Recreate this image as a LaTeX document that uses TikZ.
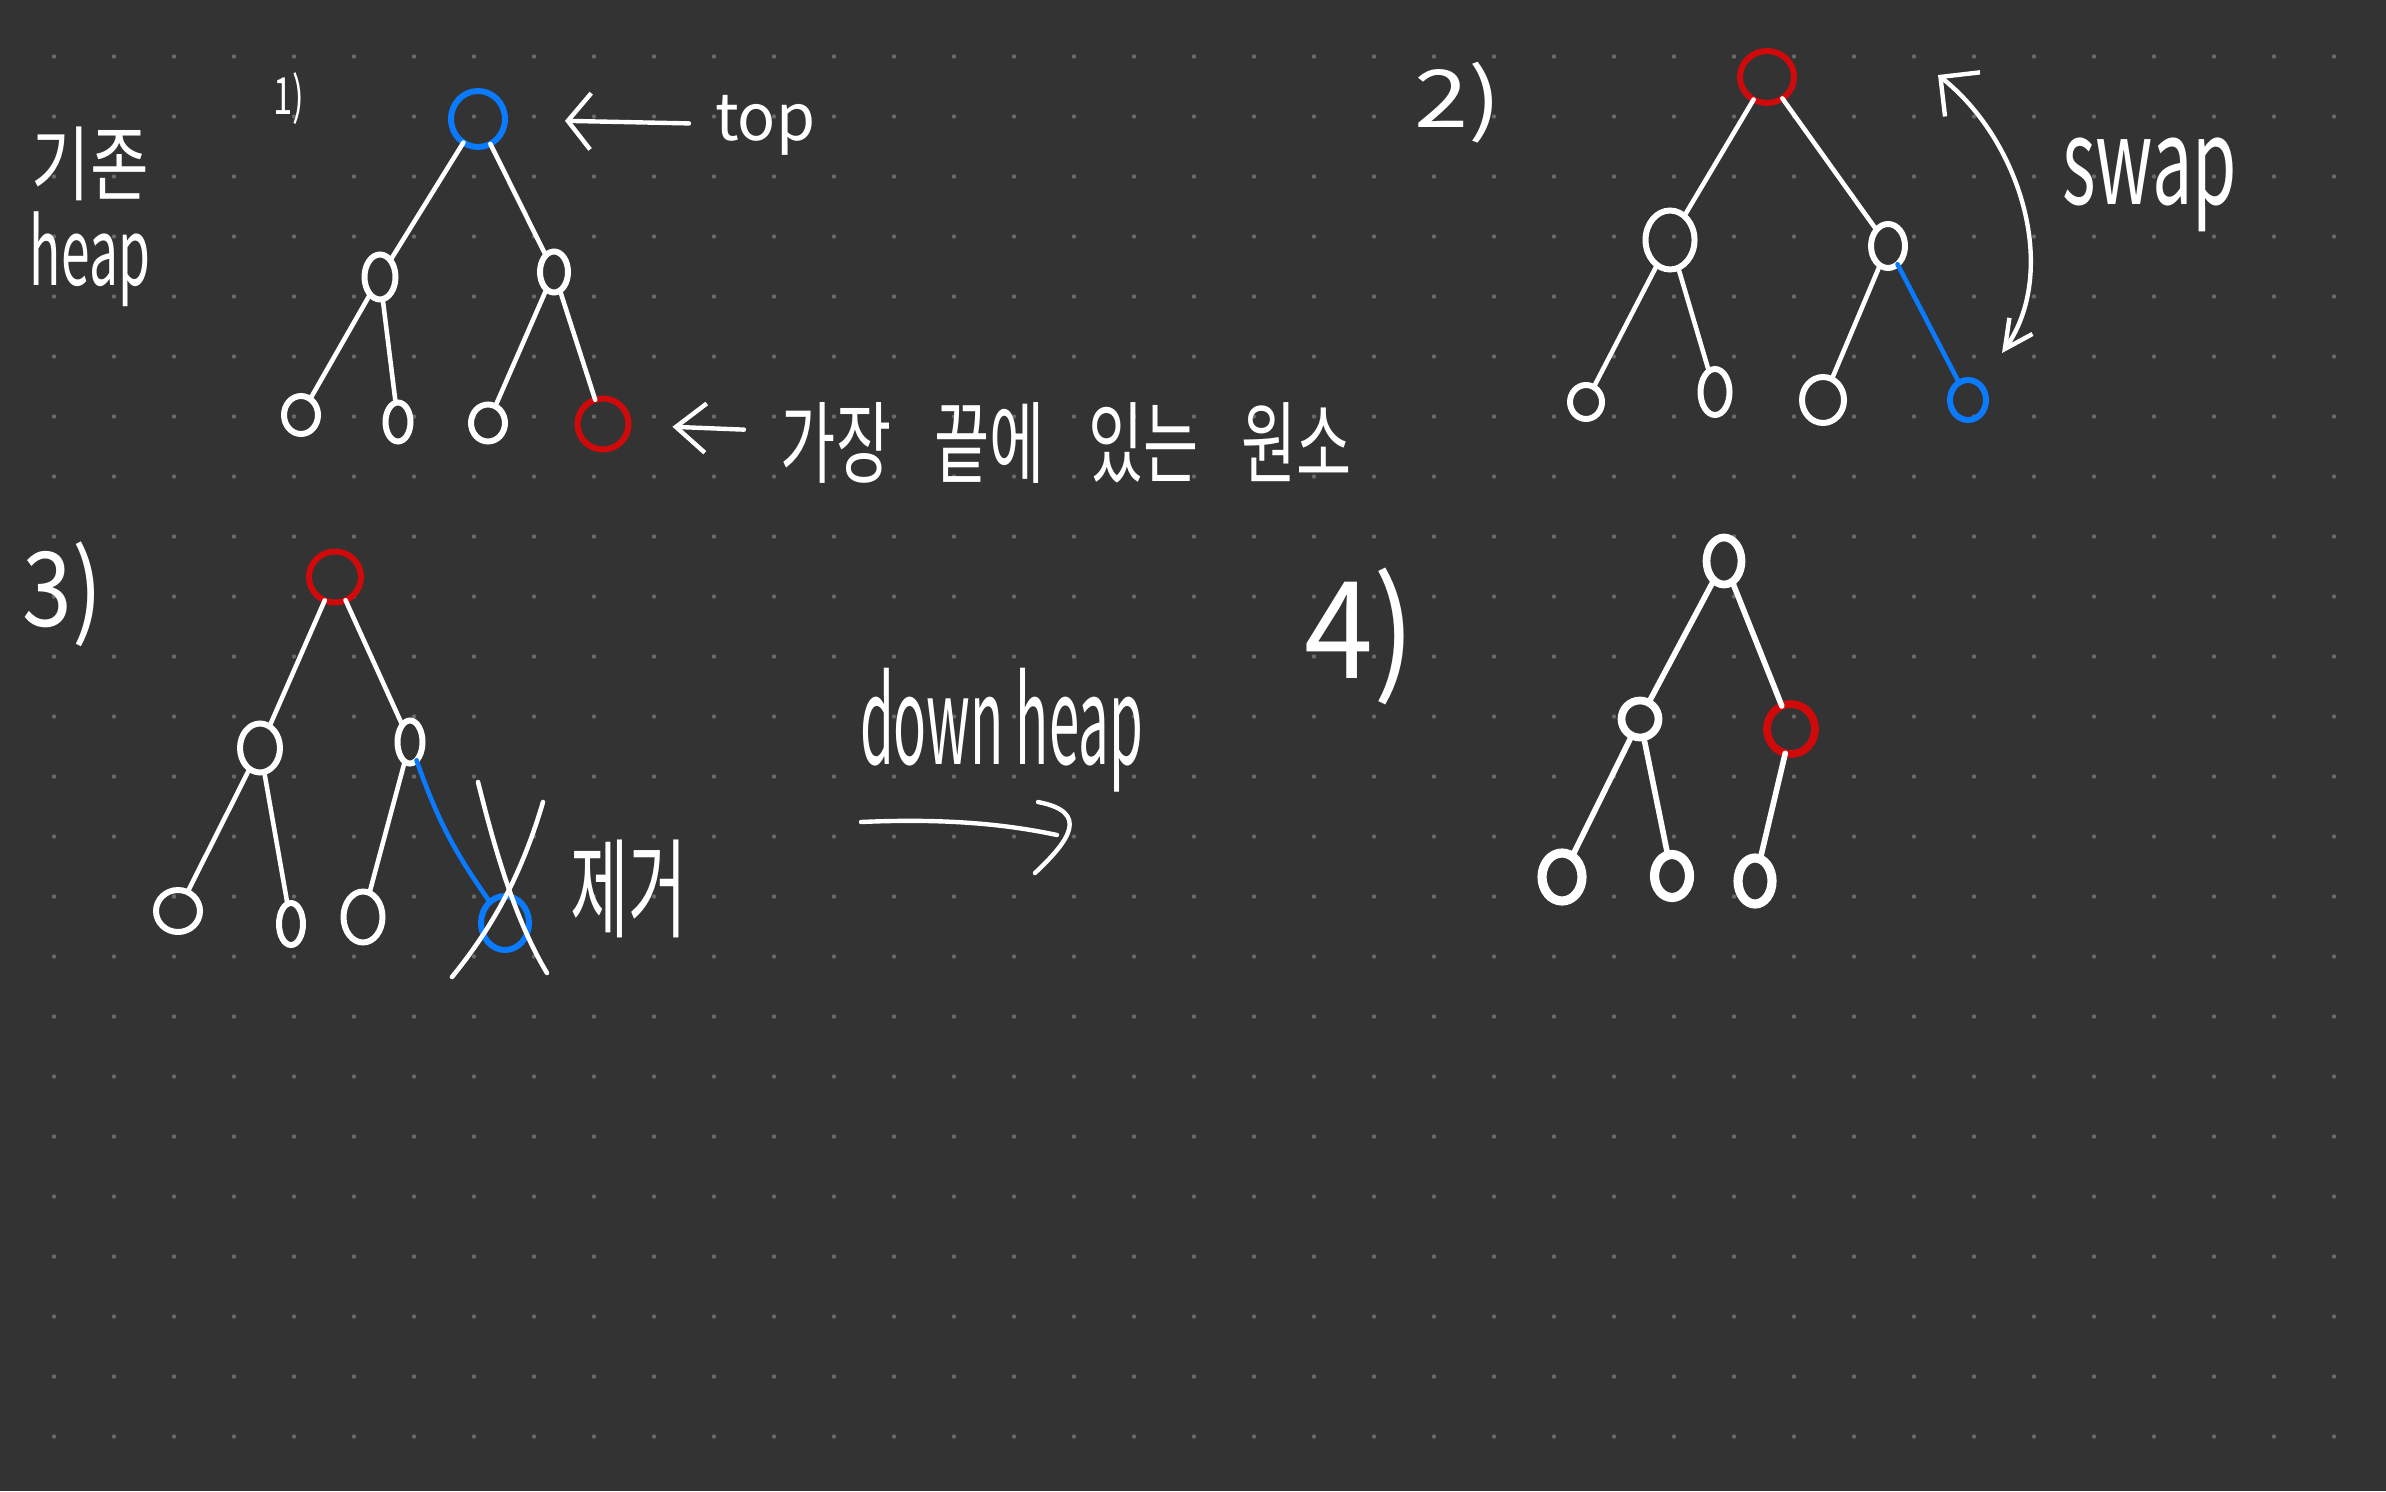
\documentclass[tikz,border=0pt]{standalone}
\usepackage{fontspec}
\setmainfont{Noto Sans CJK KR}
\usetikzlibrary{shapes.geometric,arrows.meta}
\definecolor{bg}{HTML}{333333}
\definecolor{dotc}{HTML}{6A6A6A}
\definecolor{hblue}{HTML}{0A7BFF}
\definecolor{hred}{HTML}{D00A0A}
\newlength\hwu \setlength\hwu{0.01cm}
\newcommand\hw[3]{\resizebox*{#1\hwu}{#2\hwu}{#3}}
\begin{document}
\begin{tikzpicture}[x=0.01cm,y=-0.01cm,
  nd/.style={ellipse,draw=white,line width=1.7pt,inner sep=0pt,outer sep=0pt},
  sz/.style 2 args={minimum width=#1\hwu,minimum height=#2\hwu},
  bl/.style={draw=hblue},
  rd/.style={draw=hred},
  ed/.style={draw=white,line width=1.3pt,line cap=round},
  edb/.style={draw=hblue,line width=1.3pt,line cap=round},
  txt/.style={text=white,inner sep=0pt,outer sep=0pt},
  arr/.style={draw=white,line width=1.25pt,line cap=round}]
\fill[bg] (0,0) rectangle (2386,1491);
\useasboundingbox (0,0) rectangle (2386,1491);
\foreach \i in {0,...,38}{\foreach \j in {0,...,23}{
  \fill[dotc] ({54+\i*60},{56.5+\j*60}) circle[radius=2.2\hwu];}}

% ---------- texts ----------
\node[txt] (t11) at (90.5,164) {\hw{117}{74}{기존}};
\node[txt] (t12) at (90,259.5) {\hw{120}{95}{heap}};
\node[txt] (n1) at (288.5,99) {\hw{31}{52}{1)}};
\node[txt] (top) at (765,125) {\hw{100}{60}{top}};
\node[txt] (last) at (1066.5,442.5) {\hw{571}{81}{가장~\hspace{0.5em}끝에~\hspace{0.5em}있는~\hspace{0.5em}원소}};
\node[txt] (n2) at (1457.5,102.5) {\hw{87}{81}{2)}};
\node[txt] (swap) at (2149.5,185) {\hw{175}{94}{swap}};
\node[txt] (n3) at (63,594.5) {\hw{80}{105}{3)}};
\node[txt] (del) at (628.5,889) {\hw{117}{98}{제거}};
\node[txt] (dh) at (1001.5,730) {\hw{283}{124}{down heap}};
\node[txt] (n4) at (1359.5,636.5) {\hw{111}{137}{4)}};

% ---------- panel 1 ----------
\node[nd,bl,sz={54}{56}] (r1) at (478,119) {};
\node[nd,sz={31}{45}] (a1) at (380,277) {};
\node[nd,sz={28}{41}] (b1) at (554,272) {};
\node[nd,sz={34}{38}] (c1) at (301,415) {};
\node[nd,sz={25}{39}] (d1) at (398,422) {};
\node[nd,sz={34}{37}] (e1) at (488,423) {};
\node[nd,rd,sz={51}{51}] (f1) at (603,424) {};
\draw[ed] (r1) -- (a1);
\draw[ed] (r1) -- (b1);
\draw[ed] (a1) -- (c1);
\draw[ed] (a1) -- (d1);
\draw[ed] (b1) -- (e1);
\draw[ed] (b1) -- (f1);
\draw[arr,-{Straight Barb[length=6.5pt,width=16pt]},shorten <=26\hwu,shorten >=60\hwu] (top) -- (r1);
\draw[arr,-{Straight Barb[length=8.5pt,width=14pt]},shorten <=37\hwu,shorten >=44\hwu] (last) -- (f1);

% ---------- panel 2 ----------
\node[nd,rd,sz={54}{52}] (r2) at (1767,77) {};
\node[nd,sz={49}{59}] (a2) at (1670,240) {};
\node[nd,sz={34}{44}] (b2) at (1888,246) {};
\node[nd,sz={32}{34}] (c2) at (1586,402) {};
\node[nd,sz={29}{46}] (d2) at (1715,392) {};
\node[nd,sz={42}{46}] (e2) at (1823,400) {};
\node[nd,bl,sz={36}{40}] (f2) at (1968,400) {};
\draw[ed] (r2) -- (a2);
\draw[ed] (r2) -- (b2);
\draw[ed] (a2) -- (c2);
\draw[ed] (a2) -- (d2);
\draw[ed] (b2) -- (e2);
\draw[edb] (b2) -- (f2);
\coordinate (s1) at (1938,75);
\coordinate (s2) at (2002,353);
\draw[arr,{Straight Barb[length=8pt,width=16pt]}-{Straight Barb[length=8pt,width=8pt]}]
  (s1) .. controls (2020,140) and (2060,270) .. (s2);

% ---------- panel 3 ----------
\node[nd,rd,sz={52}{51}] (r3) at (335,577) {};
\node[nd,sz={40}{49}] (a3) at (260,748) {};
\node[nd,sz={25}{43}] (b3) at (410,742) {};
\node[nd,sz={44}{42}] (c3) at (178,911) {};
\node[nd,sz={24}{42}] (d3) at (291,924) {};
\node[nd,sz={39}{51}] (e3) at (363,917) {};
\node[nd,bl,sz={48}{54}] (f3) at (505,923) {};
\draw[ed] (r3) -- (a3);
\draw[ed] (r3) -- (b3);
\draw[ed] (a3) -- (c3);
\draw[ed] (a3) -- (d3);
\draw[ed] (b3) -- (e3);
\draw[edb] (b3) to[bend right=8] (f3);
\draw[ed] (478,782) .. controls (495,850) and (515,920) .. (547,973);
\draw[ed] (543,802) .. controls (520,880) and (490,930) .. (452,977);
\coordinate (h1) at (861,822);
\coordinate (h2) at (1057,835);
\draw[arr] (h1) .. controls (950,818) and (1010,825) .. (h2);
\draw[arr] (1038,802) .. controls (1090,812) and (1070,840) .. (1035,873);

% ---------- panel 4 ----------
\node[nd,line width=2.2pt,sz={35}{47}] (r4) at (1724,561) {};
\node[nd,line width=2.2pt,sz={37}{37}] (a4) at (1640,719) {};
\node[nd,rd,line width=2.2pt,sz={48}{50}] (b4) at (1791,729) {};
\node[nd,line width=2.6pt,sz={40}{48}] (c4) at (1562,877) {};
\node[nd,line width=2.6pt,sz={35}{43}] (d4) at (1672,876) {};
\node[nd,line width=2.6pt,sz={34}{46}] (e4) at (1755,881) {};
\draw[ed,line width=1.6pt] (r4) -- (a4);
\draw[ed,line width=1.6pt] (r4) -- (b4);
\draw[ed,line width=1.6pt] (a4) -- (c4);
\draw[ed,line width=1.6pt] (a4) -- (d4);
\draw[ed,line width=1.6pt] (b4) -- (e4);
\end{tikzpicture}
\end{document}
